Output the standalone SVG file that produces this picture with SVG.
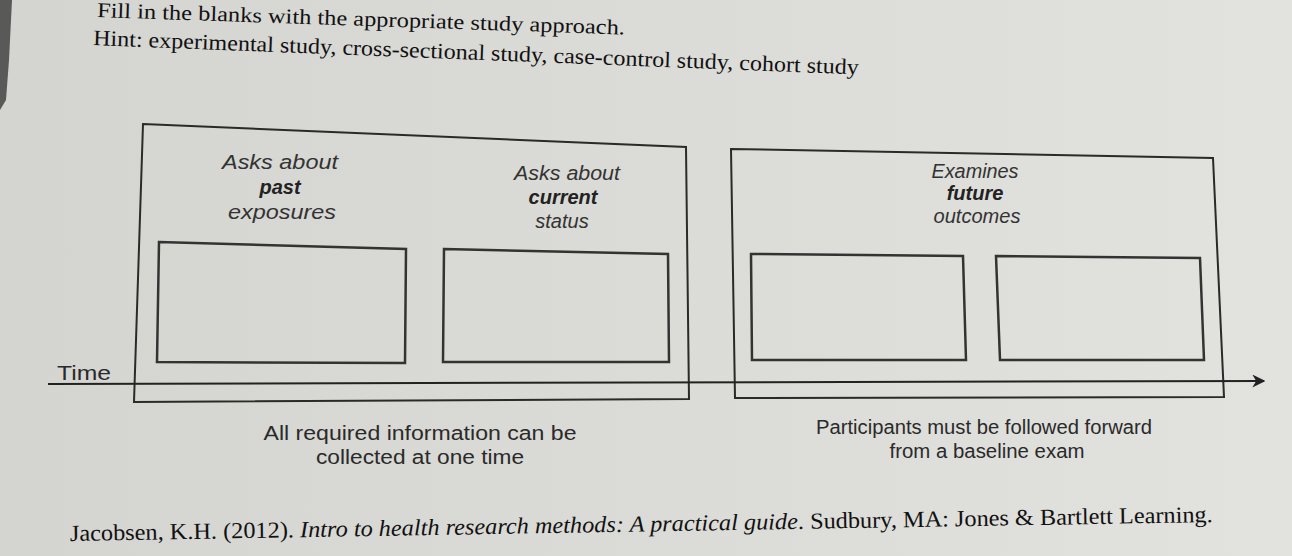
<svg xmlns="http://www.w3.org/2000/svg" width="1292" height="556" viewBox="0 0 1292 556">
<defs>
<linearGradient id="paper" x1="0" y1="0" x2="1" y2="0">
<stop offset="0" stop-color="#d4d4d0"/>
<stop offset="0.6" stop-color="#dcdcd8"/>
<stop offset="1" stop-color="#e2e2df"/>
</linearGradient>
<marker id="arrow" viewBox="0 0 10 10" refX="9" refY="5" markerWidth="13" markerHeight="13" markerUnits="userSpaceOnUse" orient="auto">
<path d="M0,0 L10,5 L0,10 L3,5 Z" fill="#222"/>
</marker>
<style>
.box{fill:none;stroke:#2a2a2a;stroke-width:2}
.inner{fill:none;stroke:#333;stroke-width:2.5}
.serif{font-family:"Liberation Serif","Times New Roman",serif;fill:#111}
.sans{font-family:"Liberation Sans",Arial,sans-serif;fill:#2a2a2a}
.lbl{font-family:"Liberation Sans",Arial,sans-serif;font-style:italic;font-size:20px;fill:#333;text-anchor:middle}
.lblb{font-weight:bold;fill:#222}
.note{font-family:"Liberation Sans",Arial,sans-serif;font-size:20px;fill:#2a2a2a;text-anchor:middle}
</style>
</defs>
<rect width="1292" height="556" fill="url(#paper)"/>
<polygon points="0,0 12,0 9,60 6,100 0,110" fill="#3a3a3a" opacity="0.8"/>

<g id="header">
<text class="serif" font-size="21" transform="translate(97,17) rotate(1.9)" textLength="528" lengthAdjust="spacingAndGlyphs">Fill in the blanks with the appropriate study approach.</text>
<text class="serif" font-size="22" transform="translate(93,45) rotate(2.2)" textLength="766" lengthAdjust="spacingAndGlyphs">Hint: experimental study, cross-sectional study, case-control study, cohort study</text>
</g>

<g id="left-group">
<polygon class="box" points="143,124 686,147 689,399 134,402"/>
<text class="lbl" x="280" y="169" textLength="116" lengthAdjust="spacingAndGlyphs">Asks about</text>
<text class="lbl lblb" x="280" y="194">past</text>
<text class="lbl" x="282" y="219" textLength="108" lengthAdjust="spacingAndGlyphs">exposures</text>
<text class="lbl" x="567" y="180" textLength="106" lengthAdjust="spacingAndGlyphs">Asks about</text>
<text class="lbl lblb" x="563" y="204">current</text>
<text class="lbl" x="562" y="228">status</text>
</g>

<g id="box-past">
<polygon class="inner" points="159,242 406,249 405,363 157,362"/>
</g>
<g id="box-current">
<polygon class="inner" points="444,249 668,254 669,362 443,362"/>
</g>

<g id="right-group">
<polygon class="box" points="731,149 1213,158 1224,397 735,398"/>
<text class="lbl" x="975" y="178" font-size="18" textLength="87" lengthAdjust="spacingAndGlyphs">Examines</text>
<text class="lbl lblb" x="975" y="200" font-size="18">future</text>
<text class="lbl" x="977" y="223" font-size="18" textLength="87" lengthAdjust="spacingAndGlyphs">outcomes</text>
</g>

<g id="box-future-1">
<polygon class="inner" points="751,254 963,256 966,360 752,360"/>
</g>
<g id="box-future-2">
<polygon class="inner" points="996,256 1200,258 1204,360 1000,360"/>
</g>

<g id="connectors">
<line x1="48" y1="384" x2="1264" y2="381" stroke="#222" stroke-width="2" marker-end="url(#arrow)"/>
</g>

<g id="time-label">
<text class="sans" font-size="20" x="57" y="380" textLength="54" lengthAdjust="spacingAndGlyphs">Time</text>
</g>

<g id="notes">
<text class="note" x="420" y="440" textLength="313" lengthAdjust="spacingAndGlyphs">All required information can be</text>
<text class="note" x="420" y="464" textLength="208" lengthAdjust="spacingAndGlyphs">collected at one time</text>
<text class="note" x="984" y="434" font-size="19" textLength="336" lengthAdjust="spacingAndGlyphs">Participants must be followed forward</text>
<text class="note" x="987" y="458" font-size="19" textLength="195" lengthAdjust="spacingAndGlyphs">from a baseline exam</text>
</g>

<g id="citation">
<text class="serif" font-size="23" transform="translate(70,541) rotate(-0.95)" textLength="1143" lengthAdjust="spacingAndGlyphs">Jacobsen, K.H. (2012). <tspan font-style="italic">Intro to health research methods: A practical guide</tspan>. Sudbury, MA: Jones &amp; Bartlett Learning.</text>
</g>
</svg>
